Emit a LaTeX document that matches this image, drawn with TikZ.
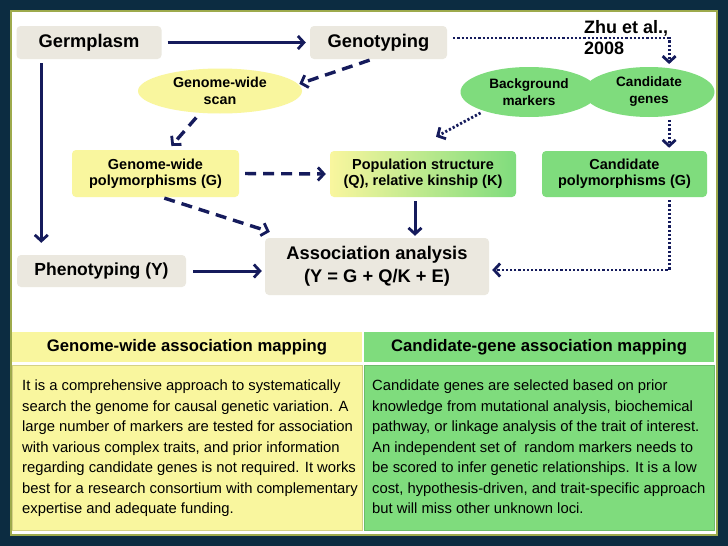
\documentclass[tikz,border=0pt]{standalone}
\usepackage{fontspec}
\setmainfont{Liberation Sans}
\usetikzlibrary{arrows.meta,calc,shapes.geometric}
\definecolor{navybg}{HTML}{0C2C41}
\definecolor{panelborder}{HTML}{9DAA4C}
\definecolor{beige}{HTML}{EBE8DF}
\definecolor{lyellow}{HTML}{F9F69E}
\definecolor{lgreen}{HTML}{7FDC7D}
\definecolor{arrowblue}{HTML}{151B5C}
\newcommand{\fsz}[2]{\fontsize{#1}{#2}\selectfont}
\tikzset{
  box/.style={rectangle, rounded corners=4pt, inner sep=0pt, align=center},
  bigtxt/.style={font=\bfseries\fsz{18.3}{23}},
  smalltxt/.style={font=\bfseries\fsz{14.5}{16}},
  oval/.style={ellipse, inner sep=0pt, align=center, font=\bfseries\fsz{13.6}{17}},
  tip/.style={-{Straight Barb[length=6pt,width=13pt,line width=2.8pt]}},
  solidarrow/.style={tip, arrowblue, line width=3pt},
  dasharrow/.style={tip, arrowblue, line width=3.4pt, dash pattern=on 11pt off 7pt},
  dotarrow/.style={tip, arrowblue, line width=2.8pt, dash pattern=on 2.2pt off 2pt},
  bodytxt/.style={anchor=north west, inner sep=0pt, align=left, font=\fsz{14.8}{20.5}},
  headtxt/.style={inner sep=0pt, font=\bfseries\fsz{16.7}{19}}
}
\begin{document}
\begin{tikzpicture}[x=1pt,y=-1pt]
\useasboundingbox (0,0) rectangle (728,546);
\fill[navybg] (0,0) rectangle (728,546);
\draw[panelborder, line width=2pt, fill=white] (11,11) rectangle (717,535);

% top nodes
\node[box, bigtxt, fill=beige, minimum width=145pt, minimum height=33pt] (germ) at (89,42.5) {Germplasm};
\node[box, bigtxt, fill=beige, minimum width=137pt, minimum height=33pt] (geno) at (378.5,42.5) {Genotyping};
\node[oval, fill=lyellow, minimum width=164pt, minimum height=45pt, font=\bfseries\fsz{14.3}{17.5}] (gscan) at (220,91) {Genome-wide\\scan};
\node[oval, fill=lgreen, minimum width=137pt, minimum height=50pt] (bgm) at (529,92) {Background\\markers};
\node[oval, fill=lgreen, minimum width=131pt, minimum height=50pt] (cgen) at (649,92) {Candidate\\genes};
\node[anchor=north west, inner sep=0pt, align=left, font=\bfseries\fsz{18}{21}] (zhu) at (584,20) {Zhu et al.,\\2008};

% middle row
\node[box, smalltxt, fill=lyellow, minimum width=167pt, minimum height=47pt] (gpoly) at (155.5,173.5) {Genome-wide\\polymorphisms (G)};
\node[box, smalltxt, left color=lyellow, right color=lgreen, minimum width=186pt, minimum height=46pt] (pop) at (423,174) {Population structure\\(Q), relative kinship (K)};
\node[box, smalltxt, fill=lgreen, minimum width=165pt, minimum height=46pt] (cpoly) at (624.5,174) {Candidate\\polymorphisms (G)};

% lower row
\node[box, bigtxt, fill=beige, minimum width=169pt, minimum height=32pt, font=\bfseries\fsz{17.5}{21}] (phen) at (101.5,271) {Phenotyping (Y)};
\node[box, bigtxt, fill=beige, minimum width=224pt, minimum height=57pt] (assoc) at (377,266.5) {Association analysis\\(Y = G + Q/K + E)};

% connectors
\draw[solidarrow, shorten <=6pt, shorten >=4pt] (germ.east) -- (geno.west);
\coordinate (gd) at ($(germ.south west)+(25,0)$);
\draw[solidarrow, shorten <=4pt, shorten >=12pt] (gd) -- (gd |- phen.north);
\draw[dasharrow, shorten <=3pt, shorten >=1pt] (geno.250) -- (gscan.5);
\draw[dasharrow, shorten <=6pt, shorten >=5pt] (gscan.228) -- (gpoly.62);
\draw[dasharrow, shorten <=6pt, shorten >=4pt] (gpoly.east) -- (pop.west);
\coordinate (gpo) at ($(gpoly.south)+(6,0)$);
\coordinate (asin) at ($(assoc.north west)+(5,-6)$);
\draw[dasharrow, shorten <=3pt] (gpo) -- (asin);
\coordinate (popout) at ($(pop.south)+(-8,0)$);
\draw[solidarrow, shorten <=4pt, shorten >=2pt] (popout) -- (popout |- assoc.north);
\draw[solidarrow, shorten <=7pt, shorten >=3pt] (phen.east) -- (phen.east -| assoc.west);
\coordinate (gr) at ($(geno.east)+(0,-4.5)$);
\draw[dotarrow, shorten <=6pt, shorten >=4pt] (gr) -| (cgen.50);
\coordinate (pin) at ($(pop.north)+(13,-14)$);
\draw[dotarrow, shorten <=4pt] (bgm.203) -- (pin);
\draw[dotarrow, shorten <=4pt, shorten >=3pt] (cgen.-50) -- (cgen.-50 |- cpoly.north);
\coordinate (cpo) at (cgen.-50 |- cpoly.south);
\draw[dotarrow, shorten <=3pt, shorten >=3pt] (cpo) |- ($(assoc.east)+(0,3.5)$);

% table
\fill[lyellow] (12,332) rectangle (362,362);
\fill[lgreen] (364,332) rectangle (714,362);
\draw[lyellow!85!black, line width=0.6pt, fill=lyellow] (12,365) rectangle (362,530);
\draw[lgreen!85!black, line width=0.6pt, fill=lgreen] (364,365) rectangle (714,530);
\node[headtxt] (lh) at (187,347) {Genome-wide association mapping};
\node[headtxt] (rh) at (539,347) {Candidate-gene association mapping};
\node[bodytxt] (lb) at (22,380) {It is a comprehensive approach to systematically\\search the genome for causal genetic variation. A\\large number of markers are tested for association\\with various complex traits, and prior information\\regarding candidate genes is not required. It works\\best for a research consortium with complementary\\expertise and adequate funding.};
\node[bodytxt] (rb) at (372,380) {Candidate genes are selected based on prior\\knowledge from mutational analysis, biochemical\\pathway, or linkage analysis of the trait of interest.\\An independent set of\ \ random markers needs to\\be scored to infer genetic relationships. It is a low\\cost, hypothesis-driven, and trait-specific approach\\but will miss other unknown loci.};
\end{tikzpicture}
\end{document}
